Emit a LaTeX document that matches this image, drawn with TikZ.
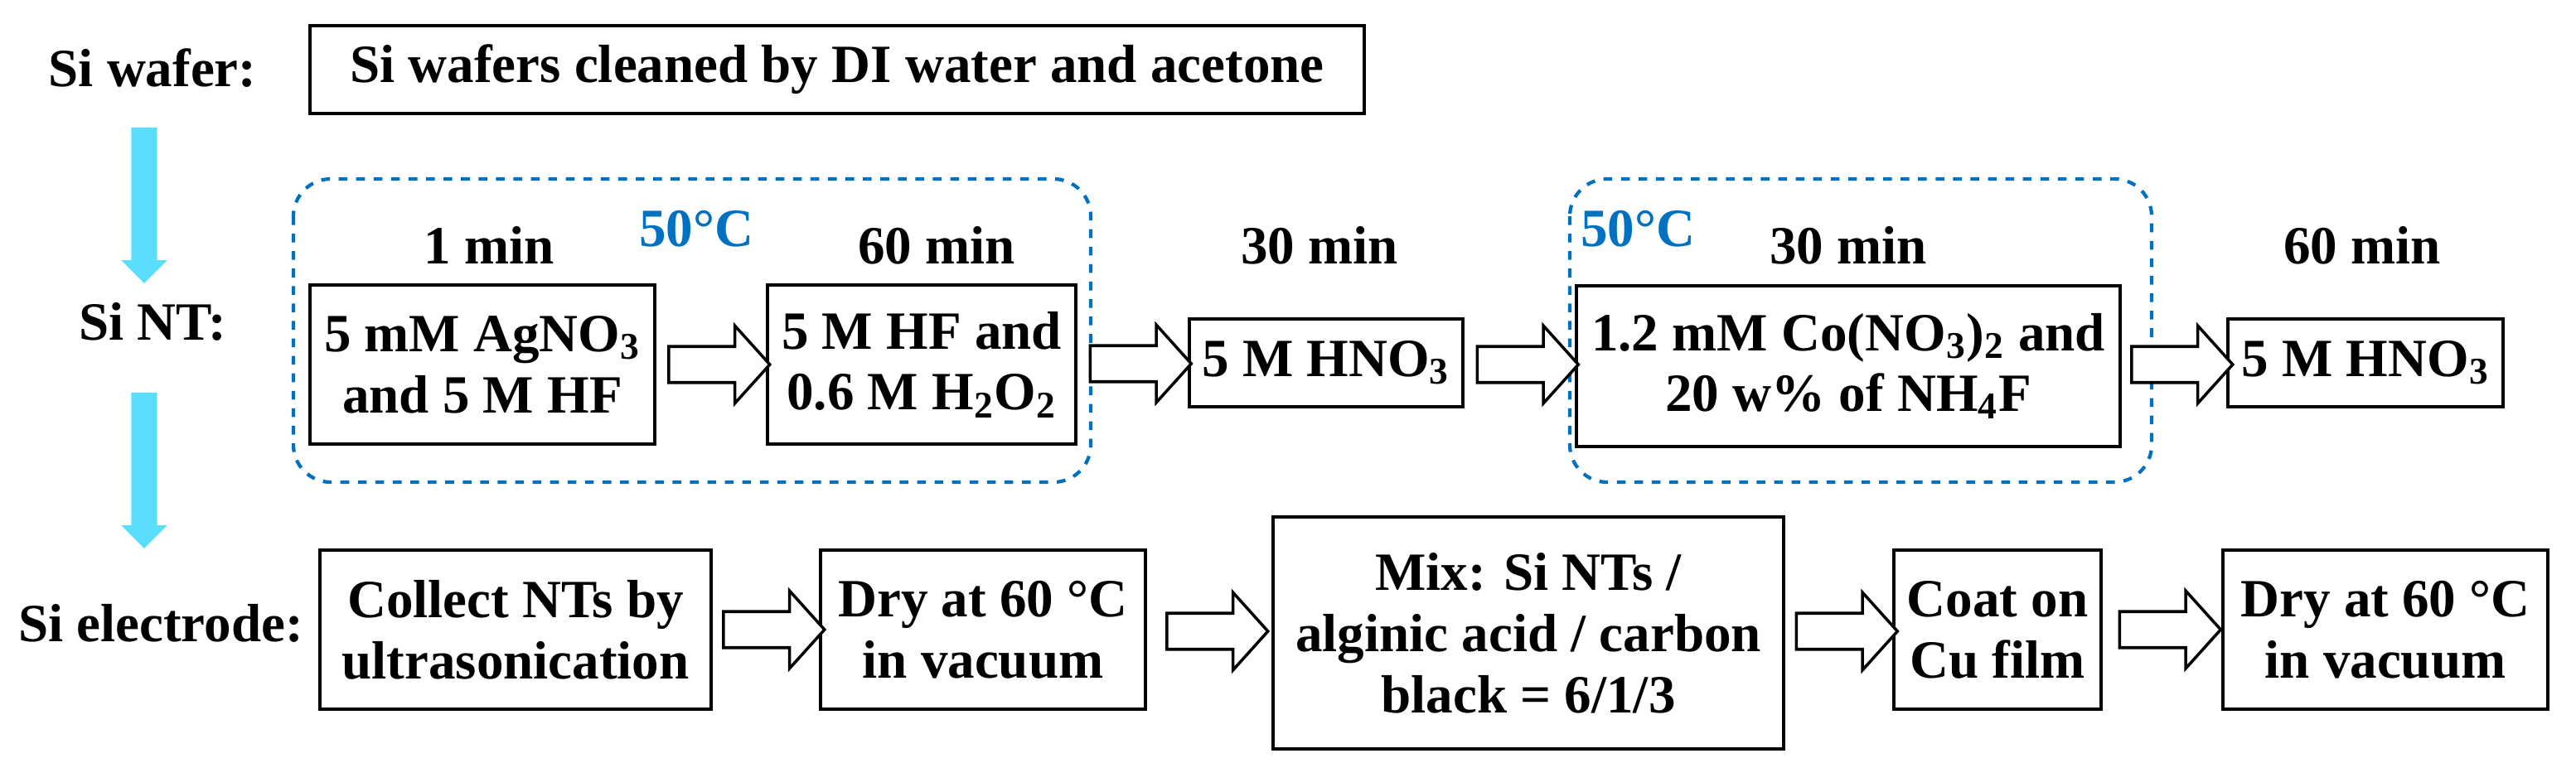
\documentclass[tikz,border=0pt]{standalone}
\usepackage{fontspec}
\setmainfont{Liberation Serif}
\usetikzlibrary{shapes.arrows,calc}
\definecolor{skyarrow}{RGB}{90,222,255}
\definecolor{heatblue}{RGB}{0,112,192}
\tikzset{
  procbox/.style={draw, line width=1.2pt, align=center, inner sep=1pt, font=\fontsize{18.5}{21}\selectfont\bfseries},
  steplabel/.style={font=\fontsize{18.5}{21}\selectfont\bfseries},
  hollowarrow/.style={single arrow, draw, line width=1pt, fill=white, inner sep=0.2cm,
    single arrow head extend=0.25cm, minimum height=1.22cm, single arrow tip angle=96},
  downarrow/.style={single arrow, fill=skyarrow, inner sep=0.15cm,
    single arrow head extend=0.12cm, minimum height=1.88cm, shape border rotate=270},
  heatzone/.style={draw=heatblue, line width=1.2pt, dashed, rounded corners=0.45cm},
  heatlabel/.style={text=heatblue, font=\fontsize{18.5}{21}\selectfont\bfseries}
}
\begin{document}
\begin{tikzpicture}[x=0.02cm, y=-0.02cm]
\useasboundingbox (0,0) rectangle (1554,460.5);

%% row labels and the cyan arrows
\node[steplabel] (lwafer) at (92,41) {Si wafer:};
\node[steplabel] (lnt) at (92,194) {Si NT:};
\node[steplabel] (lelec) at (97,376) {Si electrode:};
\node[downarrow] (dn1) at (87,120) {};
\node[downarrow] (dn2) at (87,280) {};

%% wafer cleaning
\node[procbox, minimum width=636*0.02cm, minimum height=53*0.02cm] (clean) at (505,42) {Si wafers cleaned by DI water and acetone};

%% heated zones
\draw[heatzone] (177,108) rectangle (658,291);
\draw[heatzone] (947,108) rectangle (1298,291);
\node[heatlabel] (heat1) at (420,138) {50°C};
\node[heatlabel] (heat2) at (988,138) {50°C};

%% nanotube etching
\node[procbox, minimum width=208*0.02cm, minimum height=96*0.02cm] (agno) at (291,220) {5 mM AgNO$_\mathbf{3}$\\and 5 M HF};
\node[procbox, minimum width=186*0.02cm, minimum height=96*0.02cm] (hfox) at (556,220) {5 M HF and\\0.6 M H$_\mathbf{2}$O$_\mathbf{2}$};
\node[procbox, minimum width=165*0.02cm, minimum height=53*0.02cm] (hno1) at (800,219) {5 M HNO$_\mathbf{3}$};
\node[procbox, minimum width=328*0.02cm, minimum height=97*0.02cm] (conh) at (1115,221) {1.2 mM Co(NO$_\mathbf{3}$)$_\mathbf{2}$ and\\20 w\% of NH$_\mathbf{4}$F};
\node[procbox, minimum width=166*0.02cm, minimum height=53*0.02cm] (hno2) at (1427,219) {5 M HNO$_\mathbf{3}$};

\node[steplabel] (t1) at (295,148) {1 min};
\node[steplabel] (t2) at (565,148) {60 min};
\node[steplabel] (t3) at (796,148) {30 min};
\node[steplabel] (t4) at (1115,148) {30 min};
\node[steplabel] (t5) at (1425,148) {60 min};

\node[hollowarrow] (a1) at ($(agno.east)!0.5!(hfox.west)$) {};
\node[hollowarrow] (a2) at ($(hfox.east)!0.5!(hno1.west)$) {};
\node[hollowarrow] (a3) at ($(hno1.east)!0.5!(conh.west)$) {};
\node[hollowarrow] (a4) at ($(conh.east)!0.5!(hno2.west)$) {};

%% electrode making
\node[procbox, minimum width=236*0.02cm, minimum height=96*0.02cm] (collect) at (311,380) {Collect NTs by\\ultrasonication};
\node[procbox, minimum width=196*0.02cm, minimum height=96*0.02cm] (dry1) at (593,380) {Dry at 60 °C\\in vacuum};
\node[procbox, minimum width=308*0.02cm, minimum height=140*0.02cm] (mix) at (922,382) {Mix: Si NTs /\\alginic acid / carbon\\black = 6/1/3};
\node[procbox, minimum width=125*0.02cm, minimum height=96*0.02cm] (coat) at (1205,380) {Coat on\\Cu film};
\node[procbox, minimum width=196*0.02cm, minimum height=96*0.02cm] (dry2) at (1439,380) {Dry at 60 °C\\in vacuum};

\node[hollowarrow] (b1) at ($(collect.east)!0.5!(dry1.west)$) {};
\node[hollowarrow] (b2) at ($(dry1.east)!0.5!(mix.west)$) {};
\node[hollowarrow] (b3) at ($(mix.east)!0.5!(coat.west)$) {};
\node[hollowarrow] (b4) at ($(coat.east)!0.5!(dry2.west)$) {};
\end{tikzpicture}
\end{document}
